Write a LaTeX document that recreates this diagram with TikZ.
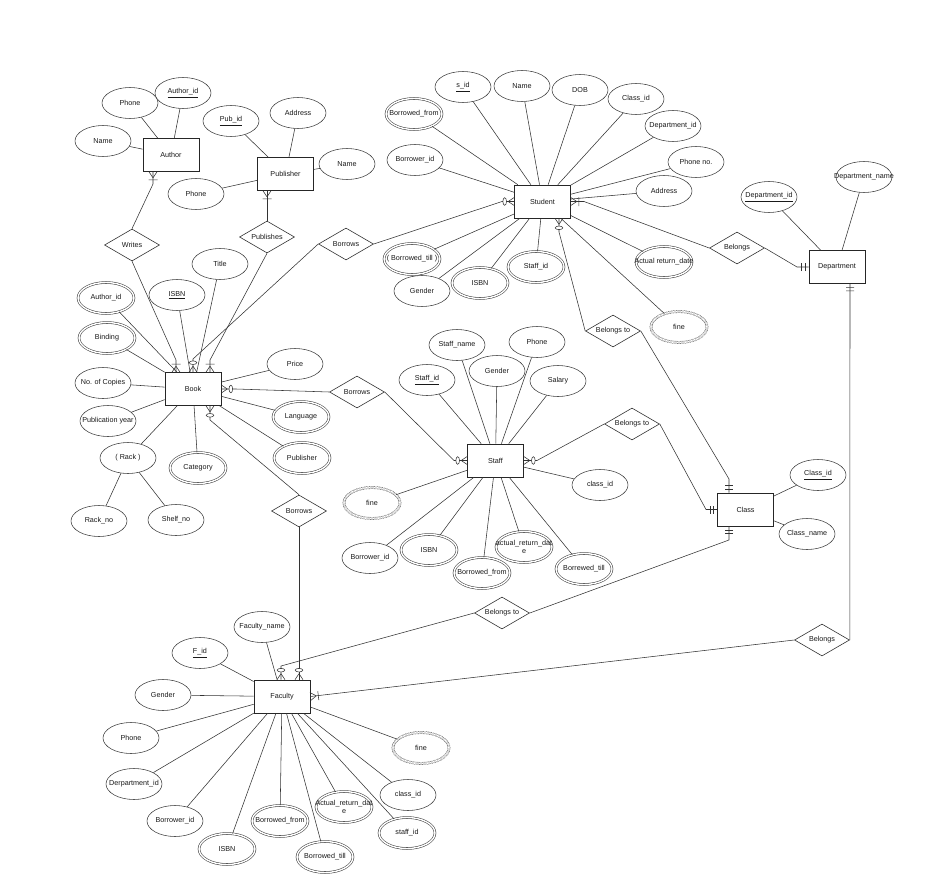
\documentclass[tikz,border=0pt]{standalone}
\usepackage{fontspec}
\setmainfont{Liberation Sans}
\usetikzlibrary{shapes.geometric,decorations.markings}
\newcommand\nt[1]{\makebox[0pt]{#1}}
\tikzset{
  mk/.style={draw=black!80, line width=0.55pt, solid},
  onemany/.style={postaction={decorate, decoration={markings, mark=at position 1 with {
      \draw[mk] (-6pt,0pt) -- (0pt,4pt) (-6pt,0pt) -- (0pt,-4pt) (-8pt,-4.5pt) -- (-8pt,4.5pt);}}}},
  zeromany/.style={postaction={decorate, decoration={markings, mark=at position 1 with {
      \draw[mk] (-6pt,0pt) -- (0pt,4pt) (-6pt,0pt) -- (0pt,-4pt);
      \draw[mk, fill=white] (-9.5pt,0pt) ellipse (1.8pt and 3.8pt);}}}},
  mandone/.style={postaction={decorate, decoration={markings, mark=at position 1 with {
      \draw[mk] (-3.5pt,-4pt) -- (-3.5pt,4pt) (-7pt,-4pt) -- (-7pt,4pt);}}}},
}
\begin{document}
\begin{tikzpicture}[x=1pt,y=-1pt,
  every node/.style={font=\fontsize{7.2}{8}\selectfont, text=black!90},
  ent/.style={draw=black!85, line width=0.65pt, rectangle, minimum width=56pt, minimum height=33pt, inner sep=0pt, fill=white},
  attr/.style={draw=black!75, line width=0.55pt, ellipse, minimum width=56pt, minimum height=31pt, inner sep=0pt, fill=white},
  mv/.style={attr, double=white, double distance=1.4pt},
  drv/.style={attr, draw=black!60, line width=0.6pt, double=white, double distance=1.6pt, dash pattern=on 0.9pt off 0.7pt},
  rel/.style={draw=black!80, line width=0.6pt, diamond, aspect=1.7, minimum width=55pt, minimum height=32pt, inner sep=0pt, fill=white},
  conn/.style={draw=black!80, line width=0.55pt},
]
\fill[white] (0,0) rectangle (926,880);
\useasboundingbox (0,0) rectangle (926,880);

% entities
\node[ent] (author) at (171,155) {Author};
\node[ent] (publisher) at (285.5,174) {Publisher};
\node[ent] (book) at (193,389) {Book};
\node[ent] (student) at (542.5,201.5) {Student};
\node[ent] (department) at (837,267) {Department};
\node[ent] (staff) at (495.5,460.5) {Staff};
\node[ent] (class) at (745.5,509.5) {Class};
\node[ent] (faculty) at (282,696.5) {Faculty};

% relationships
\node[rel] (writes) at (132,245) {\nt{Writes}};
\node[rel] (publishes) at (267,237) {\nt{Publishes}};
\node[rel] (borS) at (346,244) {\nt{Borrows}};
\node[rel] (belD) at (737,248) {\nt{Belongs}};
\node[rel] (borSt) at (357,392) {\nt{Borrows}};
\node[rel] (borF) at (299,511) {\nt{Borrows}};
\node[rel] (belCS) at (613,331) {\nt{Belongs to}};
\node[rel] (belCSt) at (632,424) {\nt{Belongs to}};
\node[rel] (belCF) at (502,613) {\nt{Belongs to}};
\node[rel] (belDF) at (822,640) {\nt{Belongs}};

% author attributes
\node[attr] (aPhone) at (130,103) {\nt{Phone}};
\node[attr] (aId) at (183,93) {\nt{\underline{Author\_id}}};
\node[attr] (aName) at (103,141) {\nt{Name}};
% publisher attributes
\node[attr] (pId) at (231,121) {\nt{\underline{Pub\_id}}};
\node[attr] (pAddr) at (298,113) {\nt{Address}};
\node[attr] (pName) at (347,164) {\nt{Name}};
\node[attr] (pPhone) at (196,194) {\nt{Phone}};
% book attributes
\node[attr] (title) at (220,264) {\nt{Title}};
\node[attr] (bIsbn) at (177,295) {\nt{\underline{ISBN}}};
\node[mv] (bAuth) at (106,298) {\nt{Author\_id}};
\node[mv] (binding) at (107,338) {\nt{Binding}};
\node[attr] (copies) at (103,383) {\nt{No. of Copies}};
\node[attr] (pubyear) at (108,421) {\nt{Publication year}};
\node[attr] (rack) at (128,458) {\nt{( Rack )}};
\node[attr] (rackno) at (99,521) {\nt{Rack\_no}};
\node[attr] (shelfno) at (176,520) {\nt{Shelf\_no}};
\node[mv] (category) at (198,468) {\nt{Category}};
\node[mv] (bPublisher) at (302,458) {\nt{Publisher}};
\node[mv] (language) at (301,417) {\nt{Language}};
\node[attr] (price) at (295,364) {\nt{Price}};
% student attributes
\node[attr] (sId) at (463,87) {\nt{\underline{s\_id}}};
\node[attr] (sName) at (522,86) {\nt{Name}};
\node[attr] (dob) at (580,90) {\nt{DOB}};
\node[attr] (sClass) at (636,99) {\nt{Class\_id}};
\node[attr] (sDept) at (673,126) {\nt{Department\_id}};
\node[attr] (sPhone) at (696,162) {\nt{Phone no.}};
\node[attr] (sAddr) at (664,191) {\nt{Address}};
\node[mv] (sActual) at (664,262) {\nt{Actual return\_date}};
\node[mv] (sStaff) at (536,267) {\nt{Staff\_id}};
\node[mv] (sIsbn) at (480,283) {\nt{ISBN}};
\node[attr] (sGender) at (422,291) {\nt{Gender}};
\node[mv] (sTill) at (412,259) {\nt{( Borrowed\_till )}};
\node[attr] (sBorrower) at (415,160) {\nt{Borrower\_id}};
\node[mv] (sFrom) at (414,114) {\nt{Borrowed\_from}};
\node[drv] (sFine) at (679,327) {\nt{fine}};
% department attributes
\node[attr] (dId) at (769,197) {\nt{\underline{Department\_id}}};
\node[attr] (dName) at (864,177) {\nt{Department\_name}};
% staff attributes
\node[attr] (stName) at (457,345) {\nt{Staff\_name}};
\node[attr] (stPhone) at (537,342) {\nt{Phone}};
\node[attr] (stId) at (427,380) {\nt{\underline{Staff\_id}}};
\node[attr] (stGender) at (497,371) {\nt{Gender}};
\node[attr] (salary) at (558,381) {\nt{Salary}};
\node[attr] (stClass) at (600,485) {\nt{class\_id}};
\node[drv] (stFine) at (372,503) {\nt{fine}};
\node[attr] (stBorrower) at (370,558) {\nt{Borrower\_id}};
\node[mv] (stIsbn) at (429,550) {\nt{ISBN}};
\node[mv] (stFrom) at (482,573) {\nt{Borrowed\_from}};
\node[mv] (stActual) at (524,547) {\nt{\shortstack{actual\_return\_dat\\e}}};
\node[mv] (stTill) at (584,569) {\nt{Borrewed\_till}};
% class attributes
\node[attr] (cId) at (818,475) {\nt{\underline{Class\_id}}};
\node[attr] (cName) at (807,534) {\nt{Class\_name}};
% faculty attributes
\node[attr] (fName) at (262,627) {\nt{Faculty\_name}};
\node[attr] (fId) at (200,653) {\nt{\underline{F\_id}}};
\node[attr] (fGender) at (163,695) {\nt{Gender}};
\node[attr] (fPhone) at (131,738) {\nt{Phone}};
\node[attr] (fDept) at (134,784) {\nt{Derpartment\_id}};
\node[attr] (fBorrower) at (175,821) {\nt{Borrower\_id}};
\node[mv] (fIsbn) at (227,849) {\nt{ISBN}};
\node[mv] (fFrom) at (280,821) {\nt{Borrowed\_from}};
\node[mv] (fTill) at (325,857) {\nt{Borrowed\_till}};
\node[mv] (fActual) at (344,807) {\nt{\shortstack{Actual\_return\_dat\\e}}};
\node[mv] (fStaff) at (407,833) {\nt{staff\_id}};
\node[attr] (fClass) at (408,795) {\nt{class\_id}};
\node[drv] (fFine) at (421,748) {\nt{fine}};

% attribute lines
\foreach \a in {aPhone,aId,aName} \draw[conn] (\a) -- (author);
\foreach \a in {pId,pAddr,pName,pPhone} \draw[conn] (\a) -- (publisher);
\foreach \a in {title,bIsbn,bAuth,binding,copies,pubyear,rack,category,bPublisher,language,price} \draw[conn] (\a) -- (book);
\foreach \a in {rackno,shelfno} \draw[conn] (\a) -- (rack);
\foreach \a in {sId,sName,dob,sClass,sDept,sPhone,sAddr,sActual,sStaff,sIsbn,sGender,sTill,sBorrower,sFrom,sFine} \draw[conn] (\a) -- (student);
\foreach \a in {dId,dName} \draw[conn] (\a) -- (department);
\foreach \a in {stName,stPhone,stId,stGender,salary,stClass,stFine,stBorrower,stIsbn,stFrom,stActual,stTill} \draw[conn] (\a) -- (staff);
\foreach \a in {cId,cName} \draw[conn] (\a) -- (class);
\foreach \a in {fName,fId,fGender,fPhone,fDept,fBorrower,fIsbn,fFrom,fTill,fActual,fStaff,fClass,fFine} \draw[conn] (\a) -- (faculty);

% relationship lines
\draw[conn,onemany] (writes.north) -- (153,184) -- (153,0 |- author.south);
\draw[conn,onemany] (writes.south) -- (176,360) -- (176,0 |- book.north);
\draw[conn,onemany] (publishes.north) -- (267,0 |- publisher.south);
\draw[conn,onemany] (publishes.south) -- (210,360) -- (210,0 |- book.north);
\draw[conn,zeromany] (borS.west) -- (193,359) -- (193,0 |- book.north);
\draw[conn,zeromany] (borS.east) -- (502,201.5) -- (student.west);
\draw[conn,zeromany] (borSt.west) -- (236,389) -- (book.east);
\draw[conn,zeromany] (borSt.east) -- (454,460.5) -- (staff.west);
\draw[conn,zeromany] (borF.north) -- (210,420) -- (210,0 |- book.south);
\draw[conn,zeromany] (borF.south) -- (299,0 |- faculty.north);
\draw[conn,zeromany] (belCS.west) -- (559,232) -- (559,0 |- student.south);
\draw[conn,mandone] (belCS.east) -- (729,479) -- (729,0 |- class.north);
\draw[conn,onemany] (belD.west) -- (584,201.5) -- (student.east);
\draw[conn,mandone] (belD.east) -- (797,267) -- (department.west);
\draw[conn,zeromany] (belCSt.west) -- (537,460.5) -- (staff.east);
\draw[conn,mandone] (belCSt.east) -- (706,509.5) -- (class.west);
\draw[conn,mandone] (belCF.east) -- (729,540) -- (729,0 |- class.south);
\draw[conn,zeromany] (belCF.west) -- (281,666) -- (281,0 |- faculty.north);
\draw[conn,mandone] (belDF.east) -- (850,0 |- department.south);
\draw[conn,onemany] (belDF.west) -- (faculty.east);
\end{tikzpicture}
\end{document}
